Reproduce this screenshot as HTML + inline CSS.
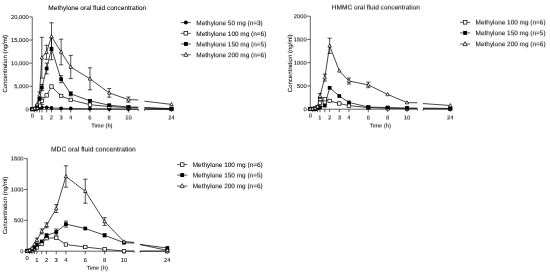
<!DOCTYPE html>
<html><head><meta charset="utf-8"><title>Oral fluid concentration</title>
<style>
html,body{margin:0;padding:0;background:#fff;}
svg{display:block;}
svg text{text-rendering:geometricPrecision;stroke:#000;stroke-width:0.05px;font-family:"Liberation Sans",Arial,sans-serif;fill:#000;}
</style></head><body>
<svg width="550" height="273" viewBox="0 0 550 273">
<defs>
<filter id="sh1" x="-10%" y="-60%" width="120%" height="220%"><feOffset in="SourceGraphic" dy="1" result="o"/><feComposite in="SourceGraphic" in2="o" operator="arithmetic" k1="0" k2="0.75" k3="0.25" k4="0"/></filter>
<filter id="sh2" x="-10%" y="-60%" width="120%" height="220%"><feOffset in="SourceGraphic" dy="1" result="o"/><feComposite in="SourceGraphic" in2="o" operator="arithmetic" k1="0" k2="0.5" k3="0.5" k4="0"/></filter>
<filter id="sh3" x="-10%" y="-60%" width="120%" height="220%"><feOffset in="SourceGraphic" dy="1" result="o"/><feComposite in="SourceGraphic" in2="o" operator="arithmetic" k1="0" k2="0.25" k3="0.75" k4="0"/></filter>
</defs>
<rect width="550" height="273" fill="#fff"/>
<line x1="32.25" y1="16.90" x2="32.25" y2="109.75" stroke="#000" stroke-width="0.62"/>
<line x1="31.90" y1="109.40" x2="138.30" y2="109.40" stroke="#000" stroke-width="0.62"/>
<line x1="144.40" y1="109.40" x2="172.00" y2="109.40" stroke="#000" stroke-width="0.62"/>
<line x1="29.25" y1="109.40" x2="32.25" y2="109.40" stroke="#000" stroke-width="0.62"/>
<text x="28.65" y="111" font-size="5.8" text-anchor="end" filter="url(#sh2)" >0</text>
<line x1="29.25" y1="86.28" x2="32.25" y2="86.28" stroke="#000" stroke-width="0.62"/>
<text x="28.65" y="88" font-size="5.8" text-anchor="end" filter="url(#sh1)" >5,000</text>
<line x1="29.25" y1="63.15" x2="32.25" y2="63.15" stroke="#000" stroke-width="0.62"/>
<text x="28.65" y="65" font-size="5.8" text-anchor="end" filter="url(#sh1)" >10,000</text>
<line x1="29.25" y1="40.03" x2="32.25" y2="40.03" stroke="#000" stroke-width="0.62"/>
<text x="28.65" y="42" font-size="5.8" text-anchor="end" >15,000</text>
<line x1="29.25" y1="16.90" x2="32.25" y2="16.90" stroke="#000" stroke-width="0.62"/>
<text x="28.65" y="19" font-size="5.8" text-anchor="end" >20,000</text>
<line x1="34.66" y1="109.40" x2="34.66" y2="112.40" stroke="#000" stroke-width="0.62"/>
<line x1="37.06" y1="109.40" x2="37.06" y2="112.40" stroke="#000" stroke-width="0.62"/>
<line x1="39.47" y1="109.40" x2="39.47" y2="112.40" stroke="#000" stroke-width="0.62"/>
<line x1="46.68" y1="109.40" x2="46.68" y2="112.40" stroke="#000" stroke-width="0.62"/>
<line x1="41.87" y1="109.40" x2="41.87" y2="112.40" stroke="#000" stroke-width="0.62"/>
<text x="41.87" y="119" font-size="5.8" text-anchor="middle" filter="url(#sh2)" >1</text>
<line x1="51.49" y1="109.40" x2="51.49" y2="112.40" stroke="#000" stroke-width="0.62"/>
<text x="51.49" y="119" font-size="5.8" text-anchor="middle" filter="url(#sh2)" >2</text>
<line x1="61.11" y1="109.40" x2="61.11" y2="112.40" stroke="#000" stroke-width="0.62"/>
<text x="61.11" y="119" font-size="5.8" text-anchor="middle" filter="url(#sh2)" >3</text>
<line x1="70.73" y1="109.40" x2="70.73" y2="112.40" stroke="#000" stroke-width="0.62"/>
<text x="70.73" y="119" font-size="5.8" text-anchor="middle" filter="url(#sh2)" >4</text>
<line x1="89.97" y1="109.40" x2="89.97" y2="112.40" stroke="#000" stroke-width="0.62"/>
<text x="89.97" y="119" font-size="5.8" text-anchor="middle" filter="url(#sh2)" >6</text>
<line x1="109.21" y1="109.40" x2="109.21" y2="112.40" stroke="#000" stroke-width="0.62"/>
<text x="109.21" y="119" font-size="5.8" text-anchor="middle" filter="url(#sh2)" >8</text>
<line x1="128.45" y1="109.40" x2="128.45" y2="112.40" stroke="#000" stroke-width="0.62"/>
<text x="128.45" y="119" font-size="5.8" text-anchor="middle" filter="url(#sh2)" >10</text>
<text x="32.25" y="117" font-size="5.8" text-anchor="middle" filter="url(#sh2)" >0</text>
<line x1="138.30" y1="109.40" x2="138.30" y2="111.00" stroke="#000" stroke-width="0.62"/>
<line x1="144.40" y1="109.40" x2="144.40" y2="111.00" stroke="#000" stroke-width="0.62"/>
<line x1="171.50" y1="109.40" x2="171.50" y2="112.10" stroke="#000" stroke-width="0.62"/>
<text x="171.50" y="119" font-size="5.8" text-anchor="middle" filter="url(#sh2)" >24</text>
<text x="101.88" y="127" font-size="5.8" text-anchor="middle" filter="url(#sh2)" >Time (h)</text>
<text transform="translate(6.90,63.75) rotate(-90)" font-size="6.0" text-anchor="middle">Concentration (ng/ml)</text>
<text x="97.30" y="10" font-size="6.55" text-anchor="middle" >Methylone oral fluid concentration</text>
<line x1="32.25" y1="109.20" x2="34.66" y2="109.00" stroke="#000" stroke-width="0.72"/>
<line x1="34.66" y1="109.00" x2="37.06" y2="108.60" stroke="#000" stroke-width="0.72"/>
<line x1="37.06" y1="108.60" x2="39.47" y2="108.00" stroke="#000" stroke-width="0.72"/>
<line x1="39.47" y1="108.00" x2="41.87" y2="107.30" stroke="#000" stroke-width="0.72"/>
<line x1="41.87" y1="107.30" x2="46.68" y2="107.30" stroke="#000" stroke-width="0.72"/>
<line x1="46.68" y1="107.30" x2="51.49" y2="108.00" stroke="#000" stroke-width="0.72"/>
<line x1="51.49" y1="108.00" x2="61.11" y2="108.30" stroke="#000" stroke-width="0.72"/>
<line x1="61.11" y1="108.30" x2="70.73" y2="108.40" stroke="#000" stroke-width="0.72"/>
<line x1="70.73" y1="108.40" x2="89.97" y2="108.70" stroke="#000" stroke-width="0.72"/>
<line x1="89.97" y1="108.70" x2="109.21" y2="108.90" stroke="#000" stroke-width="0.72"/>
<line x1="109.21" y1="108.90" x2="128.45" y2="109.00" stroke="#000" stroke-width="0.72"/>
<line x1="128.45" y1="109.00" x2="138.30" y2="109.01" stroke="#000" stroke-width="0.72"/>
<line x1="144.40" y1="109.07" x2="171.50" y2="109.20" stroke="#000" stroke-width="0.72"/>
<line x1="32.25" y1="109.20" x2="34.66" y2="109.00" stroke="#000" stroke-width="0.72"/>
<line x1="34.66" y1="109.00" x2="37.06" y2="107.50" stroke="#000" stroke-width="0.72"/>
<line x1="37.06" y1="107.50" x2="39.47" y2="105.70" stroke="#000" stroke-width="0.72"/>
<line x1="39.47" y1="105.70" x2="41.87" y2="100.90" stroke="#000" stroke-width="0.72"/>
<line x1="41.87" y1="100.90" x2="46.68" y2="95.40" stroke="#000" stroke-width="0.72"/>
<line x1="46.68" y1="95.40" x2="51.49" y2="86.50" stroke="#000" stroke-width="0.72"/>
<line x1="51.49" y1="86.50" x2="61.11" y2="95.90" stroke="#000" stroke-width="0.72"/>
<line x1="61.11" y1="95.90" x2="70.73" y2="99.90" stroke="#000" stroke-width="0.72"/>
<line x1="70.73" y1="99.90" x2="89.97" y2="104.70" stroke="#000" stroke-width="0.72"/>
<line x1="89.97" y1="104.70" x2="109.21" y2="106.60" stroke="#000" stroke-width="0.72"/>
<line x1="109.21" y1="106.60" x2="128.45" y2="107.60" stroke="#000" stroke-width="0.72"/>
<line x1="128.45" y1="107.60" x2="138.30" y2="107.70" stroke="#000" stroke-width="0.72"/>
<line x1="144.40" y1="108.06" x2="171.50" y2="109.00" stroke="#000" stroke-width="0.72"/>
<line x1="32.25" y1="109.20" x2="34.66" y2="108.80" stroke="#000" stroke-width="0.72"/>
<line x1="34.66" y1="108.80" x2="37.06" y2="106.00" stroke="#000" stroke-width="0.72"/>
<line x1="37.06" y1="106.00" x2="39.47" y2="99.00" stroke="#000" stroke-width="0.72"/>
<line x1="39.47" y1="99.00" x2="41.87" y2="87.50" stroke="#000" stroke-width="0.72"/>
<line x1="41.87" y1="87.50" x2="46.68" y2="68.50" stroke="#000" stroke-width="0.72"/>
<line x1="46.68" y1="68.50" x2="51.49" y2="48.70" stroke="#000" stroke-width="0.72"/>
<line x1="51.49" y1="48.70" x2="61.11" y2="79.20" stroke="#000" stroke-width="0.72"/>
<line x1="61.11" y1="79.20" x2="70.73" y2="93.80" stroke="#000" stroke-width="0.72"/>
<line x1="70.73" y1="93.80" x2="89.97" y2="100.90" stroke="#000" stroke-width="0.72"/>
<line x1="89.97" y1="100.90" x2="109.21" y2="105.20" stroke="#000" stroke-width="0.72"/>
<line x1="109.21" y1="105.20" x2="128.45" y2="107.00" stroke="#000" stroke-width="0.72"/>
<line x1="128.45" y1="107.00" x2="138.30" y2="107.12" stroke="#000" stroke-width="0.72"/>
<line x1="144.40" y1="107.53" x2="171.50" y2="108.60" stroke="#000" stroke-width="0.72"/>
<line x1="32.25" y1="109.20" x2="34.66" y2="108.50" stroke="#000" stroke-width="0.72"/>
<line x1="34.66" y1="108.50" x2="37.06" y2="104.50" stroke="#000" stroke-width="0.72"/>
<line x1="37.06" y1="104.50" x2="39.47" y2="95.00" stroke="#000" stroke-width="0.72"/>
<line x1="39.47" y1="95.00" x2="41.87" y2="57.70" stroke="#000" stroke-width="0.72"/>
<line x1="41.87" y1="57.70" x2="46.48" y2="52.30" stroke="#000" stroke-width="0.72"/>
<line x1="46.48" y1="52.30" x2="51.49" y2="36.60" stroke="#000" stroke-width="0.72"/>
<line x1="51.49" y1="36.60" x2="61.11" y2="52.00" stroke="#000" stroke-width="0.72"/>
<line x1="61.11" y1="52.00" x2="70.73" y2="67.00" stroke="#000" stroke-width="0.72"/>
<line x1="70.73" y1="67.00" x2="89.97" y2="78.80" stroke="#000" stroke-width="0.72"/>
<line x1="89.97" y1="78.80" x2="109.21" y2="92.90" stroke="#000" stroke-width="0.72"/>
<line x1="109.21" y1="92.90" x2="128.45" y2="99.60" stroke="#000" stroke-width="0.72"/>
<line x1="128.45" y1="99.60" x2="138.30" y2="99.95" stroke="#000" stroke-width="0.72"/>
<line x1="144.40" y1="101.18" x2="171.50" y2="104.40" stroke="#000" stroke-width="0.72"/>
<circle cx="32.25" cy="109.20" r="1.90" fill="#000"/>
<circle cx="34.66" cy="109.00" r="1.90" fill="#000"/>
<circle cx="37.06" cy="108.60" r="1.90" fill="#000"/>
<circle cx="39.47" cy="108.00" r="1.90" fill="#000"/>
<circle cx="41.87" cy="107.30" r="1.90" fill="#000"/>
<circle cx="46.68" cy="107.30" r="1.90" fill="#000"/>
<circle cx="51.49" cy="108.00" r="1.90" fill="#000"/>
<circle cx="61.11" cy="108.30" r="1.90" fill="#000"/>
<circle cx="70.73" cy="108.40" r="1.90" fill="#000"/>
<circle cx="89.97" cy="108.70" r="1.90" fill="#000"/>
<circle cx="109.21" cy="108.90" r="1.90" fill="#000"/>
<circle cx="128.45" cy="109.00" r="1.90" fill="#000"/>
<circle cx="171.50" cy="109.20" r="1.90" fill="#000"/>
<line x1="41.87" y1="97.30" x2="41.87" y2="104.50" stroke="#000" stroke-width="0.68"/>
<line x1="39.77" y1="97.30" x2="43.97" y2="97.30" stroke="#000" stroke-width="0.68"/>
<line x1="39.77" y1="104.50" x2="43.97" y2="104.50" stroke="#000" stroke-width="0.68"/>
<rect x="30.53" y="107.48" width="3.44" height="3.44" fill="#fff" stroke="#000" stroke-width="0.7"/>
<rect x="32.94" y="107.28" width="3.44" height="3.44" fill="#fff" stroke="#000" stroke-width="0.7"/>
<rect x="35.34" y="105.78" width="3.44" height="3.44" fill="#fff" stroke="#000" stroke-width="0.7"/>
<rect x="37.75" y="103.98" width="3.44" height="3.44" fill="#fff" stroke="#000" stroke-width="0.7"/>
<rect x="40.15" y="99.18" width="3.44" height="3.44" fill="#fff" stroke="#000" stroke-width="0.7"/>
<rect x="44.96" y="93.68" width="3.44" height="3.44" fill="#fff" stroke="#000" stroke-width="0.7"/>
<rect x="49.77" y="84.78" width="3.44" height="3.44" fill="#fff" stroke="#000" stroke-width="0.7"/>
<rect x="59.39" y="94.18" width="3.44" height="3.44" fill="#fff" stroke="#000" stroke-width="0.7"/>
<rect x="69.01" y="98.18" width="3.44" height="3.44" fill="#fff" stroke="#000" stroke-width="0.7"/>
<rect x="88.25" y="102.98" width="3.44" height="3.44" fill="#fff" stroke="#000" stroke-width="0.7"/>
<rect x="107.49" y="104.88" width="3.44" height="3.44" fill="#fff" stroke="#000" stroke-width="0.7"/>
<rect x="126.73" y="105.88" width="3.44" height="3.44" fill="#fff" stroke="#000" stroke-width="0.7"/>
<rect x="169.78" y="107.28" width="3.44" height="3.44" fill="#fff" stroke="#000" stroke-width="0.7"/>
<line x1="41.87" y1="84.50" x2="41.87" y2="90.50" stroke="#000" stroke-width="0.68"/>
<line x1="39.77" y1="84.50" x2="43.97" y2="84.50" stroke="#000" stroke-width="0.68"/>
<line x1="39.77" y1="90.50" x2="43.97" y2="90.50" stroke="#000" stroke-width="0.68"/>
<line x1="46.68" y1="63.00" x2="46.68" y2="74.00" stroke="#000" stroke-width="0.68"/>
<line x1="44.58" y1="63.00" x2="48.78" y2="63.00" stroke="#000" stroke-width="0.68"/>
<line x1="44.58" y1="74.00" x2="48.78" y2="74.00" stroke="#000" stroke-width="0.68"/>
<line x1="51.49" y1="37.70" x2="51.49" y2="59.70" stroke="#000" stroke-width="0.68"/>
<line x1="49.39" y1="37.70" x2="53.59" y2="37.70" stroke="#000" stroke-width="0.68"/>
<line x1="49.39" y1="59.70" x2="53.59" y2="59.70" stroke="#000" stroke-width="0.68"/>
<line x1="61.11" y1="75.70" x2="61.11" y2="82.70" stroke="#000" stroke-width="0.68"/>
<line x1="59.01" y1="75.70" x2="63.21" y2="75.70" stroke="#000" stroke-width="0.68"/>
<line x1="59.01" y1="82.70" x2="63.21" y2="82.70" stroke="#000" stroke-width="0.68"/>
<line x1="70.73" y1="91.80" x2="70.73" y2="95.80" stroke="#000" stroke-width="0.68"/>
<line x1="68.63" y1="91.80" x2="72.83" y2="91.80" stroke="#000" stroke-width="0.68"/>
<line x1="68.63" y1="95.80" x2="72.83" y2="95.80" stroke="#000" stroke-width="0.68"/>
<line x1="89.97" y1="99.70" x2="89.97" y2="102.10" stroke="#000" stroke-width="0.68"/>
<line x1="87.87" y1="99.70" x2="92.07" y2="99.70" stroke="#000" stroke-width="0.68"/>
<line x1="87.87" y1="102.10" x2="92.07" y2="102.10" stroke="#000" stroke-width="0.68"/>
<rect x="30.40" y="107.35" width="3.70" height="3.70" fill="#000"/>
<rect x="32.80" y="106.95" width="3.70" height="3.70" fill="#000"/>
<rect x="35.21" y="104.15" width="3.70" height="3.70" fill="#000"/>
<rect x="37.62" y="97.15" width="3.70" height="3.70" fill="#000"/>
<rect x="40.02" y="85.65" width="3.70" height="3.70" fill="#000"/>
<rect x="44.83" y="66.65" width="3.70" height="3.70" fill="#000"/>
<rect x="49.64" y="46.85" width="3.70" height="3.70" fill="#000"/>
<rect x="59.26" y="77.35" width="3.70" height="3.70" fill="#000"/>
<rect x="68.88" y="91.95" width="3.70" height="3.70" fill="#000"/>
<rect x="88.12" y="99.05" width="3.70" height="3.70" fill="#000"/>
<rect x="107.36" y="103.35" width="3.70" height="3.70" fill="#000"/>
<rect x="126.60" y="105.15" width="3.70" height="3.70" fill="#000"/>
<rect x="169.65" y="106.75" width="3.70" height="3.70" fill="#000"/>
<line x1="39.47" y1="92.00" x2="39.47" y2="98.00" stroke="#000" stroke-width="0.68"/>
<line x1="37.37" y1="92.00" x2="41.57" y2="92.00" stroke="#000" stroke-width="0.68"/>
<line x1="37.37" y1="98.00" x2="41.57" y2="98.00" stroke="#000" stroke-width="0.68"/>
<line x1="41.87" y1="37.30" x2="41.87" y2="78.10" stroke="#000" stroke-width="0.68"/>
<line x1="39.77" y1="37.30" x2="43.97" y2="37.30" stroke="#000" stroke-width="0.68"/>
<line x1="39.77" y1="78.10" x2="43.97" y2="78.10" stroke="#000" stroke-width="0.68"/>
<line x1="46.48" y1="45.30" x2="46.48" y2="59.30" stroke="#000" stroke-width="0.68"/>
<line x1="44.38" y1="45.30" x2="48.58" y2="45.30" stroke="#000" stroke-width="0.68"/>
<line x1="44.38" y1="59.30" x2="48.58" y2="59.30" stroke="#000" stroke-width="0.68"/>
<line x1="51.49" y1="22.80" x2="51.49" y2="50.40" stroke="#000" stroke-width="0.68"/>
<line x1="49.39" y1="22.80" x2="53.59" y2="22.80" stroke="#000" stroke-width="0.68"/>
<line x1="49.39" y1="50.40" x2="53.59" y2="50.40" stroke="#000" stroke-width="0.68"/>
<line x1="61.11" y1="39.20" x2="61.11" y2="64.80" stroke="#000" stroke-width="0.68"/>
<line x1="59.01" y1="39.20" x2="63.21" y2="39.20" stroke="#000" stroke-width="0.68"/>
<line x1="59.01" y1="64.80" x2="63.21" y2="64.80" stroke="#000" stroke-width="0.68"/>
<line x1="70.73" y1="55.40" x2="70.73" y2="78.60" stroke="#000" stroke-width="0.68"/>
<line x1="68.63" y1="55.40" x2="72.83" y2="55.40" stroke="#000" stroke-width="0.68"/>
<line x1="68.63" y1="78.60" x2="72.83" y2="78.60" stroke="#000" stroke-width="0.68"/>
<line x1="89.97" y1="67.80" x2="89.97" y2="89.80" stroke="#000" stroke-width="0.68"/>
<line x1="87.87" y1="67.80" x2="92.07" y2="67.80" stroke="#000" stroke-width="0.68"/>
<line x1="87.87" y1="89.80" x2="92.07" y2="89.80" stroke="#000" stroke-width="0.68"/>
<line x1="109.21" y1="88.60" x2="109.21" y2="97.20" stroke="#000" stroke-width="0.68"/>
<line x1="107.11" y1="88.60" x2="111.31" y2="88.60" stroke="#000" stroke-width="0.68"/>
<line x1="107.11" y1="97.20" x2="111.31" y2="97.20" stroke="#000" stroke-width="0.68"/>
<line x1="128.45" y1="97.00" x2="128.45" y2="102.20" stroke="#000" stroke-width="0.68"/>
<line x1="126.35" y1="97.00" x2="130.55" y2="97.00" stroke="#000" stroke-width="0.68"/>
<line x1="126.35" y1="102.20" x2="130.55" y2="102.20" stroke="#000" stroke-width="0.68"/>
<polygon points="32.25,107.31 33.97,110.49 30.53,110.49" fill="#fff" stroke="#000" stroke-width="0.72"/>
<polygon points="34.66,106.61 36.38,109.79 32.94,109.79" fill="#fff" stroke="#000" stroke-width="0.72"/>
<polygon points="37.06,102.61 38.78,105.79 35.34,105.79" fill="#fff" stroke="#000" stroke-width="0.72"/>
<polygon points="39.47,93.11 41.19,96.29 37.75,96.29" fill="#fff" stroke="#000" stroke-width="0.72"/>
<polygon points="41.87,55.81 43.59,58.99 40.15,58.99" fill="#fff" stroke="#000" stroke-width="0.72"/>
<polygon points="46.48,50.41 48.20,53.59 44.76,53.59" fill="#fff" stroke="#000" stroke-width="0.72"/>
<polygon points="51.49,34.71 53.21,37.89 49.77,37.89" fill="#fff" stroke="#000" stroke-width="0.72"/>
<polygon points="61.11,50.11 62.83,53.29 59.39,53.29" fill="#fff" stroke="#000" stroke-width="0.72"/>
<polygon points="70.73,65.11 72.45,68.29 69.01,68.29" fill="#fff" stroke="#000" stroke-width="0.72"/>
<polygon points="89.97,76.91 91.69,80.09 88.25,80.09" fill="#fff" stroke="#000" stroke-width="0.72"/>
<polygon points="109.21,91.01 110.93,94.19 107.49,94.19" fill="#fff" stroke="#000" stroke-width="0.72"/>
<polygon points="128.45,97.71 130.17,100.89 126.73,100.89" fill="#fff" stroke="#000" stroke-width="0.72"/>
<polygon points="171.50,102.51 173.22,105.69 169.78,105.69" fill="#fff" stroke="#000" stroke-width="0.72"/>
<line x1="180.75" y1="22.60" x2="190.95" y2="22.60" stroke="#000" stroke-width="0.65"/>
<circle cx="185.85" cy="22.60" r="1.99" fill="#000"/>
<text x="196.35" y="25" font-size="6.45" text-anchor="start" filter="url(#sh1)" >Methylone 50 mg (n=3)</text>
<line x1="180.75" y1="33.30" x2="190.95" y2="33.30" stroke="#000" stroke-width="0.65"/>
<rect x="184.04" y="31.49" width="3.61" height="3.61" fill="#fff" stroke="#000" stroke-width="0.7"/>
<text x="196.35" y="36" font-size="6.45" text-anchor="start" >Methylone 100 mg (n=6)</text>
<line x1="180.75" y1="43.95" x2="190.95" y2="43.95" stroke="#000" stroke-width="0.65"/>
<rect x="183.91" y="42.01" width="3.89" height="3.89" fill="#000"/>
<text x="196.35" y="46" font-size="6.45" text-anchor="start" filter="url(#sh2)" >Methylone 150 mg (n=5)</text>
<line x1="180.75" y1="54.75" x2="190.95" y2="54.75" stroke="#000" stroke-width="0.65"/>
<polygon points="185.85,52.44 187.95,56.33 183.75,56.33" fill="#fff" stroke="#000" stroke-width="0.72"/>
<text x="196.35" y="57" font-size="6.45" text-anchor="start" filter="url(#sh1)" >Methylone 200 mg (n=6)</text>
<line x1="310.30" y1="16.20" x2="310.30" y2="109.55" stroke="#000" stroke-width="0.62"/>
<line x1="309.95" y1="109.20" x2="417.40" y2="109.20" stroke="#000" stroke-width="0.62"/>
<line x1="423.00" y1="109.20" x2="450.80" y2="109.20" stroke="#000" stroke-width="0.62"/>
<line x1="307.30" y1="109.20" x2="310.30" y2="109.20" stroke="#000" stroke-width="0.62"/>
<text x="306.70" y="111" font-size="5.8" text-anchor="end" filter="url(#sh1)" >0</text>
<line x1="307.30" y1="85.95" x2="310.30" y2="85.95" stroke="#000" stroke-width="0.62"/>
<text x="306.70" y="88" font-size="5.8" text-anchor="end" >500</text>
<line x1="307.30" y1="62.70" x2="310.30" y2="62.70" stroke="#000" stroke-width="0.62"/>
<text x="306.70" y="64" font-size="5.8" text-anchor="end" filter="url(#sh3)" >1000</text>
<line x1="307.30" y1="39.45" x2="310.30" y2="39.45" stroke="#000" stroke-width="0.62"/>
<text x="306.70" y="41" font-size="5.8" text-anchor="end" filter="url(#sh2)" >1500</text>
<line x1="307.30" y1="16.20" x2="310.30" y2="16.20" stroke="#000" stroke-width="0.62"/>
<text x="306.70" y="18" font-size="5.8" text-anchor="end" filter="url(#sh1)" >2000</text>
<line x1="312.72" y1="109.20" x2="312.72" y2="112.20" stroke="#000" stroke-width="0.62"/>
<line x1="315.13" y1="109.20" x2="315.13" y2="112.20" stroke="#000" stroke-width="0.62"/>
<line x1="317.55" y1="109.20" x2="317.55" y2="112.20" stroke="#000" stroke-width="0.62"/>
<line x1="324.81" y1="109.20" x2="324.81" y2="112.20" stroke="#000" stroke-width="0.62"/>
<line x1="319.97" y1="109.20" x2="319.97" y2="112.20" stroke="#000" stroke-width="0.62"/>
<text x="319.97" y="119" font-size="5.8" text-anchor="middle" filter="url(#sh2)" >1</text>
<line x1="329.64" y1="109.20" x2="329.64" y2="112.20" stroke="#000" stroke-width="0.62"/>
<text x="329.64" y="119" font-size="5.8" text-anchor="middle" filter="url(#sh2)" >2</text>
<line x1="339.31" y1="109.20" x2="339.31" y2="112.20" stroke="#000" stroke-width="0.62"/>
<text x="339.31" y="119" font-size="5.8" text-anchor="middle" filter="url(#sh2)" >3</text>
<line x1="348.98" y1="109.20" x2="348.98" y2="112.20" stroke="#000" stroke-width="0.62"/>
<text x="348.98" y="119" font-size="5.8" text-anchor="middle" filter="url(#sh2)" >4</text>
<line x1="368.32" y1="109.20" x2="368.32" y2="112.20" stroke="#000" stroke-width="0.62"/>
<text x="368.32" y="119" font-size="5.8" text-anchor="middle" filter="url(#sh2)" >6</text>
<line x1="387.66" y1="109.20" x2="387.66" y2="112.20" stroke="#000" stroke-width="0.62"/>
<text x="387.66" y="119" font-size="5.8" text-anchor="middle" filter="url(#sh2)" >8</text>
<line x1="407.00" y1="109.20" x2="407.00" y2="112.20" stroke="#000" stroke-width="0.62"/>
<text x="407.00" y="119" font-size="5.8" text-anchor="middle" filter="url(#sh2)" >10</text>
<text x="310.30" y="117" font-size="5.8" text-anchor="middle" filter="url(#sh2)" >0</text>
<line x1="417.40" y1="109.20" x2="417.40" y2="110.80" stroke="#000" stroke-width="0.62"/>
<line x1="423.00" y1="109.20" x2="423.00" y2="110.80" stroke="#000" stroke-width="0.62"/>
<line x1="450.30" y1="109.20" x2="450.30" y2="111.90" stroke="#000" stroke-width="0.62"/>
<text x="450.30" y="119" font-size="5.8" text-anchor="middle" filter="url(#sh2)" >24</text>
<text x="380.30" y="127" font-size="5.8" text-anchor="middle" filter="url(#sh2)" >Time (h)</text>
<text transform="translate(291.60,63.30) rotate(-90)" font-size="6.0" text-anchor="middle">Concentration (ng/ml)</text>
<text x="375.90" y="9" font-size="6.55" text-anchor="middle" filter="url(#sh2)" >HMMC oral fluid concentration</text>
<line x1="310.30" y1="109.00" x2="312.72" y2="108.90" stroke="#000" stroke-width="0.72"/>
<line x1="312.72" y1="108.90" x2="315.13" y2="108.60" stroke="#000" stroke-width="0.72"/>
<line x1="315.13" y1="108.60" x2="317.55" y2="107.30" stroke="#000" stroke-width="0.72"/>
<line x1="317.55" y1="107.30" x2="319.97" y2="102.80" stroke="#000" stroke-width="0.72"/>
<line x1="319.97" y1="102.80" x2="324.81" y2="99.20" stroke="#000" stroke-width="0.72"/>
<line x1="324.81" y1="99.20" x2="329.64" y2="100.90" stroke="#000" stroke-width="0.72"/>
<line x1="329.64" y1="100.90" x2="339.31" y2="103.50" stroke="#000" stroke-width="0.72"/>
<line x1="339.31" y1="103.50" x2="348.98" y2="105.60" stroke="#000" stroke-width="0.72"/>
<line x1="348.98" y1="105.60" x2="368.32" y2="107.60" stroke="#000" stroke-width="0.72"/>
<line x1="368.32" y1="107.60" x2="387.66" y2="108.30" stroke="#000" stroke-width="0.72"/>
<line x1="387.66" y1="108.30" x2="407.00" y2="108.60" stroke="#000" stroke-width="0.72"/>
<line x1="407.00" y1="108.60" x2="417.40" y2="108.62" stroke="#000" stroke-width="0.72"/>
<line x1="423.00" y1="108.70" x2="450.30" y2="108.90" stroke="#000" stroke-width="0.72"/>
<line x1="310.30" y1="109.00" x2="312.72" y2="108.90" stroke="#000" stroke-width="0.72"/>
<line x1="312.72" y1="108.90" x2="315.13" y2="108.70" stroke="#000" stroke-width="0.72"/>
<line x1="315.13" y1="108.70" x2="317.55" y2="108.30" stroke="#000" stroke-width="0.72"/>
<line x1="317.55" y1="108.30" x2="319.97" y2="107.30" stroke="#000" stroke-width="0.72"/>
<line x1="319.97" y1="107.30" x2="324.81" y2="105.60" stroke="#000" stroke-width="0.72"/>
<line x1="324.81" y1="105.60" x2="329.64" y2="87.80" stroke="#000" stroke-width="0.72"/>
<line x1="329.64" y1="87.80" x2="339.31" y2="96.00" stroke="#000" stroke-width="0.72"/>
<line x1="339.31" y1="96.00" x2="348.98" y2="102.40" stroke="#000" stroke-width="0.72"/>
<line x1="348.98" y1="102.40" x2="368.32" y2="107.10" stroke="#000" stroke-width="0.72"/>
<line x1="368.32" y1="107.10" x2="387.66" y2="107.50" stroke="#000" stroke-width="0.72"/>
<line x1="387.66" y1="107.50" x2="407.00" y2="108.00" stroke="#000" stroke-width="0.72"/>
<line x1="407.00" y1="108.00" x2="417.40" y2="108.03" stroke="#000" stroke-width="0.72"/>
<line x1="423.00" y1="108.13" x2="450.30" y2="108.40" stroke="#000" stroke-width="0.72"/>
<line x1="310.30" y1="109.00" x2="312.72" y2="108.80" stroke="#000" stroke-width="0.72"/>
<line x1="312.72" y1="108.80" x2="315.13" y2="108.30" stroke="#000" stroke-width="0.72"/>
<line x1="315.13" y1="108.30" x2="317.55" y2="106.70" stroke="#000" stroke-width="0.72"/>
<line x1="317.55" y1="106.70" x2="319.97" y2="96.00" stroke="#000" stroke-width="0.72"/>
<line x1="319.97" y1="96.00" x2="324.81" y2="77.60" stroke="#000" stroke-width="0.72"/>
<line x1="324.81" y1="77.60" x2="329.64" y2="45.80" stroke="#000" stroke-width="0.72"/>
<line x1="329.64" y1="45.80" x2="339.31" y2="70.80" stroke="#000" stroke-width="0.72"/>
<line x1="339.31" y1="70.80" x2="348.98" y2="81.00" stroke="#000" stroke-width="0.72"/>
<line x1="348.98" y1="81.00" x2="368.32" y2="84.90" stroke="#000" stroke-width="0.72"/>
<line x1="368.32" y1="84.90" x2="387.66" y2="94.40" stroke="#000" stroke-width="0.72"/>
<line x1="387.66" y1="94.40" x2="407.00" y2="102.60" stroke="#000" stroke-width="0.72"/>
<line x1="407.00" y1="102.60" x2="417.40" y2="102.82" stroke="#000" stroke-width="0.72"/>
<line x1="423.00" y1="103.56" x2="450.30" y2="105.50" stroke="#000" stroke-width="0.72"/>
<rect x="318.65" y="97.38" width="3.44" height="3.44" fill="#fff" stroke="#000" stroke-width="0.7"/>
<rect x="323.08" y="100.58" width="3.44" height="3.44" fill="#fff" stroke="#000" stroke-width="0.7"/>
<rect x="308.58" y="107.28" width="3.44" height="3.44" fill="#fff" stroke="#000" stroke-width="0.7"/>
<rect x="311.00" y="107.18" width="3.44" height="3.44" fill="#fff" stroke="#000" stroke-width="0.7"/>
<rect x="313.41" y="106.88" width="3.44" height="3.44" fill="#fff" stroke="#000" stroke-width="0.7"/>
<rect x="315.83" y="105.58" width="3.44" height="3.44" fill="#fff" stroke="#000" stroke-width="0.7"/>
<rect x="318.25" y="101.08" width="3.44" height="3.44" fill="#fff" stroke="#000" stroke-width="0.7"/>
<rect x="323.08" y="97.48" width="3.44" height="3.44" fill="#fff" stroke="#000" stroke-width="0.7"/>
<rect x="327.92" y="99.18" width="3.44" height="3.44" fill="#fff" stroke="#000" stroke-width="0.7"/>
<rect x="337.59" y="101.78" width="3.44" height="3.44" fill="#fff" stroke="#000" stroke-width="0.7"/>
<rect x="347.26" y="103.88" width="3.44" height="3.44" fill="#fff" stroke="#000" stroke-width="0.7"/>
<rect x="366.60" y="105.88" width="3.44" height="3.44" fill="#fff" stroke="#000" stroke-width="0.7"/>
<rect x="385.94" y="106.58" width="3.44" height="3.44" fill="#fff" stroke="#000" stroke-width="0.7"/>
<rect x="405.28" y="106.88" width="3.44" height="3.44" fill="#fff" stroke="#000" stroke-width="0.7"/>
<rect x="448.58" y="107.18" width="3.44" height="3.44" fill="#fff" stroke="#000" stroke-width="0.7"/>
<rect x="308.45" y="107.15" width="3.70" height="3.70" fill="#000"/>
<rect x="310.87" y="107.05" width="3.70" height="3.70" fill="#000"/>
<rect x="313.28" y="106.85" width="3.70" height="3.70" fill="#000"/>
<rect x="315.70" y="106.45" width="3.70" height="3.70" fill="#000"/>
<rect x="318.12" y="105.45" width="3.70" height="3.70" fill="#000"/>
<rect x="322.95" y="103.75" width="3.70" height="3.70" fill="#000"/>
<rect x="327.79" y="85.95" width="3.70" height="3.70" fill="#000"/>
<rect x="337.46" y="94.15" width="3.70" height="3.70" fill="#000"/>
<rect x="347.13" y="100.55" width="3.70" height="3.70" fill="#000"/>
<rect x="366.47" y="105.25" width="3.70" height="3.70" fill="#000"/>
<rect x="385.81" y="105.65" width="3.70" height="3.70" fill="#000"/>
<rect x="405.15" y="106.15" width="3.70" height="3.70" fill="#000"/>
<rect x="448.45" y="106.55" width="3.70" height="3.70" fill="#000"/>
<line x1="319.97" y1="93.40" x2="319.97" y2="98.60" stroke="#000" stroke-width="0.68"/>
<line x1="317.87" y1="93.40" x2="322.07" y2="93.40" stroke="#000" stroke-width="0.68"/>
<line x1="317.87" y1="98.60" x2="322.07" y2="98.60" stroke="#000" stroke-width="0.68"/>
<line x1="324.81" y1="74.10" x2="324.81" y2="81.10" stroke="#000" stroke-width="0.68"/>
<line x1="322.70" y1="74.10" x2="326.91" y2="74.10" stroke="#000" stroke-width="0.68"/>
<line x1="322.70" y1="81.10" x2="326.91" y2="81.10" stroke="#000" stroke-width="0.68"/>
<line x1="329.64" y1="38.20" x2="329.64" y2="53.40" stroke="#000" stroke-width="0.68"/>
<line x1="327.54" y1="38.20" x2="331.74" y2="38.20" stroke="#000" stroke-width="0.68"/>
<line x1="327.54" y1="53.40" x2="331.74" y2="53.40" stroke="#000" stroke-width="0.68"/>
<line x1="348.98" y1="78.00" x2="348.98" y2="84.00" stroke="#000" stroke-width="0.68"/>
<line x1="346.88" y1="78.00" x2="351.08" y2="78.00" stroke="#000" stroke-width="0.68"/>
<line x1="346.88" y1="84.00" x2="351.08" y2="84.00" stroke="#000" stroke-width="0.68"/>
<line x1="368.32" y1="82.10" x2="368.32" y2="87.70" stroke="#000" stroke-width="0.68"/>
<line x1="366.22" y1="82.10" x2="370.42" y2="82.10" stroke="#000" stroke-width="0.68"/>
<line x1="366.22" y1="87.70" x2="370.42" y2="87.70" stroke="#000" stroke-width="0.68"/>
<polygon points="310.30,107.11 312.02,110.29 308.58,110.29" fill="#fff" stroke="#000" stroke-width="0.72"/>
<polygon points="312.72,106.91 314.44,110.09 311.00,110.09" fill="#fff" stroke="#000" stroke-width="0.72"/>
<polygon points="315.13,106.41 316.86,109.59 313.41,109.59" fill="#fff" stroke="#000" stroke-width="0.72"/>
<polygon points="317.55,104.81 319.27,107.99 315.83,107.99" fill="#fff" stroke="#000" stroke-width="0.72"/>
<polygon points="319.97,94.11 321.69,97.29 318.25,97.29" fill="#fff" stroke="#000" stroke-width="0.72"/>
<polygon points="324.81,75.71 326.53,78.89 323.08,78.89" fill="#fff" stroke="#000" stroke-width="0.72"/>
<polygon points="329.64,43.91 331.36,47.09 327.92,47.09" fill="#fff" stroke="#000" stroke-width="0.72"/>
<polygon points="339.31,68.91 341.03,72.09 337.59,72.09" fill="#fff" stroke="#000" stroke-width="0.72"/>
<polygon points="348.98,79.11 350.70,82.29 347.26,82.29" fill="#fff" stroke="#000" stroke-width="0.72"/>
<polygon points="368.32,83.01 370.04,86.19 366.60,86.19" fill="#fff" stroke="#000" stroke-width="0.72"/>
<polygon points="387.66,92.51 389.38,95.69 385.94,95.69" fill="#fff" stroke="#000" stroke-width="0.72"/>
<polygon points="407.00,100.71 408.72,103.89 405.28,103.89" fill="#fff" stroke="#000" stroke-width="0.72"/>
<polygon points="450.30,103.61 452.02,106.79 448.58,106.79" fill="#fff" stroke="#000" stroke-width="0.72"/>
<line x1="460.00" y1="22.30" x2="470.20" y2="22.30" stroke="#000" stroke-width="0.65"/>
<rect x="463.29" y="20.49" width="3.61" height="3.61" fill="#fff" stroke="#000" stroke-width="0.7"/>
<text x="475.60" y="24" font-size="6.45" text-anchor="start" filter="url(#sh2)" >Methylone 100 mg (n=6)</text>
<line x1="460.00" y1="32.90" x2="470.20" y2="32.90" stroke="#000" stroke-width="0.65"/>
<rect x="463.16" y="30.96" width="3.89" height="3.89" fill="#000"/>
<text x="475.60" y="35" font-size="6.45" text-anchor="start" filter="url(#sh1)" >Methylone 150 mg (n=5)</text>
<line x1="460.00" y1="44.00" x2="470.20" y2="44.00" stroke="#000" stroke-width="0.65"/>
<polygon points="465.10,41.69 467.20,45.58 463.00,45.58" fill="#fff" stroke="#000" stroke-width="0.72"/>
<text x="475.60" y="46" font-size="6.45" text-anchor="start" filter="url(#sh1)" >Methylone 200 mg (n=6)</text>
<line x1="27.20" y1="158.60" x2="27.20" y2="251.55" stroke="#000" stroke-width="0.62"/>
<line x1="26.85" y1="251.20" x2="134.20" y2="251.20" stroke="#000" stroke-width="0.62"/>
<line x1="140.10" y1="251.20" x2="167.80" y2="251.20" stroke="#000" stroke-width="0.62"/>
<line x1="24.20" y1="251.20" x2="27.20" y2="251.20" stroke="#000" stroke-width="0.62"/>
<text x="23.60" y="253" font-size="5.8" text-anchor="end" filter="url(#sh1)" >0</text>
<line x1="24.20" y1="220.33" x2="27.20" y2="220.33" stroke="#000" stroke-width="0.62"/>
<text x="23.60" y="222" font-size="5.8" text-anchor="end" filter="url(#sh1)" >500</text>
<line x1="24.20" y1="189.47" x2="27.20" y2="189.47" stroke="#000" stroke-width="0.62"/>
<text x="23.60" y="191" font-size="5.8" text-anchor="end" filter="url(#sh2)" >1000</text>
<line x1="24.20" y1="158.60" x2="27.20" y2="158.60" stroke="#000" stroke-width="0.62"/>
<text x="23.60" y="160" font-size="5.8" text-anchor="end" filter="url(#sh2)" >1500</text>
<line x1="29.62" y1="251.20" x2="29.62" y2="254.20" stroke="#000" stroke-width="0.62"/>
<line x1="32.04" y1="251.20" x2="32.04" y2="254.20" stroke="#000" stroke-width="0.62"/>
<line x1="34.46" y1="251.20" x2="34.46" y2="254.20" stroke="#000" stroke-width="0.62"/>
<line x1="41.72" y1="251.20" x2="41.72" y2="254.20" stroke="#000" stroke-width="0.62"/>
<line x1="36.88" y1="251.20" x2="36.88" y2="254.20" stroke="#000" stroke-width="0.62"/>
<text x="36.88" y="262" font-size="5.8" text-anchor="middle" >1</text>
<line x1="46.56" y1="251.20" x2="46.56" y2="254.20" stroke="#000" stroke-width="0.62"/>
<text x="46.56" y="262" font-size="5.8" text-anchor="middle" >2</text>
<line x1="56.24" y1="251.20" x2="56.24" y2="254.20" stroke="#000" stroke-width="0.62"/>
<text x="56.24" y="262" font-size="5.8" text-anchor="middle" >3</text>
<line x1="65.92" y1="251.20" x2="65.92" y2="254.20" stroke="#000" stroke-width="0.62"/>
<text x="65.92" y="262" font-size="5.8" text-anchor="middle" >4</text>
<line x1="85.28" y1="251.20" x2="85.28" y2="254.20" stroke="#000" stroke-width="0.62"/>
<text x="85.28" y="262" font-size="5.8" text-anchor="middle" >6</text>
<line x1="104.64" y1="251.20" x2="104.64" y2="254.20" stroke="#000" stroke-width="0.62"/>
<text x="104.64" y="262" font-size="5.8" text-anchor="middle" >8</text>
<line x1="124.00" y1="251.20" x2="124.00" y2="254.20" stroke="#000" stroke-width="0.62"/>
<text x="124.00" y="262" font-size="5.8" text-anchor="middle" >10</text>
<text x="27.20" y="260" font-size="5.8" text-anchor="middle" >0</text>
<line x1="134.20" y1="251.20" x2="134.20" y2="252.80" stroke="#000" stroke-width="0.62"/>
<line x1="140.10" y1="251.20" x2="140.10" y2="252.80" stroke="#000" stroke-width="0.62"/>
<line x1="167.30" y1="251.20" x2="167.30" y2="253.90" stroke="#000" stroke-width="0.62"/>
<text x="167.30" y="262" font-size="5.8" text-anchor="middle" >24</text>
<text x="97.25" y="269" font-size="5.8" text-anchor="middle" filter="url(#sh3)" >Time (h)</text>
<text transform="translate(7.40,205.50) rotate(-90)" font-size="6.0" text-anchor="middle">Concentration (ng/ml)</text>
<text x="93.35" y="151" font-size="6.73" text-anchor="middle" filter="url(#sh2)" >MDC oral fluid concentration</text>
<line x1="27.20" y1="251.00" x2="29.62" y2="250.80" stroke="#000" stroke-width="0.72"/>
<line x1="29.62" y1="250.80" x2="32.04" y2="250.30" stroke="#000" stroke-width="0.72"/>
<line x1="32.04" y1="250.30" x2="34.46" y2="249.00" stroke="#000" stroke-width="0.72"/>
<line x1="34.46" y1="249.00" x2="36.88" y2="247.40" stroke="#000" stroke-width="0.72"/>
<line x1="36.88" y1="247.40" x2="41.72" y2="244.00" stroke="#000" stroke-width="0.72"/>
<line x1="41.72" y1="244.00" x2="46.56" y2="238.20" stroke="#000" stroke-width="0.72"/>
<line x1="46.56" y1="238.20" x2="56.24" y2="237.80" stroke="#000" stroke-width="0.72"/>
<line x1="56.24" y1="237.80" x2="65.92" y2="244.50" stroke="#000" stroke-width="0.72"/>
<line x1="65.92" y1="244.50" x2="85.28" y2="247.00" stroke="#000" stroke-width="0.72"/>
<line x1="85.28" y1="247.00" x2="104.64" y2="249.30" stroke="#000" stroke-width="0.72"/>
<line x1="104.64" y1="249.30" x2="124.00" y2="251.10" stroke="#000" stroke-width="0.72"/>
<line x1="124.00" y1="251.10" x2="134.20" y2="251.10" stroke="#000" stroke-width="0.72"/>
<line x1="140.10" y1="251.10" x2="167.30" y2="251.10" stroke="#000" stroke-width="0.72"/>
<line x1="27.20" y1="251.00" x2="29.62" y2="250.60" stroke="#000" stroke-width="0.72"/>
<line x1="29.62" y1="250.60" x2="32.04" y2="249.50" stroke="#000" stroke-width="0.72"/>
<line x1="32.04" y1="249.50" x2="34.46" y2="247.50" stroke="#000" stroke-width="0.72"/>
<line x1="34.46" y1="247.50" x2="36.88" y2="244.90" stroke="#000" stroke-width="0.72"/>
<line x1="36.88" y1="244.90" x2="41.72" y2="241.40" stroke="#000" stroke-width="0.72"/>
<line x1="41.72" y1="241.40" x2="46.56" y2="235.60" stroke="#000" stroke-width="0.72"/>
<line x1="46.56" y1="235.60" x2="56.24" y2="232.00" stroke="#000" stroke-width="0.72"/>
<line x1="56.24" y1="232.00" x2="65.92" y2="224.10" stroke="#000" stroke-width="0.72"/>
<line x1="65.92" y1="224.10" x2="85.28" y2="228.50" stroke="#000" stroke-width="0.72"/>
<line x1="85.28" y1="228.50" x2="104.64" y2="235.30" stroke="#000" stroke-width="0.72"/>
<line x1="104.64" y1="235.30" x2="124.00" y2="242.70" stroke="#000" stroke-width="0.72"/>
<line x1="124.00" y1="242.70" x2="134.20" y2="243.10" stroke="#000" stroke-width="0.72"/>
<line x1="140.10" y1="244.45" x2="167.30" y2="248.00" stroke="#000" stroke-width="0.72"/>
<line x1="27.20" y1="251.00" x2="29.62" y2="250.30" stroke="#000" stroke-width="0.72"/>
<line x1="29.62" y1="250.30" x2="32.04" y2="248.00" stroke="#000" stroke-width="0.72"/>
<line x1="32.04" y1="248.00" x2="34.46" y2="244.20" stroke="#000" stroke-width="0.72"/>
<line x1="34.46" y1="244.20" x2="36.88" y2="240.10" stroke="#000" stroke-width="0.72"/>
<line x1="36.88" y1="240.10" x2="41.72" y2="231.40" stroke="#000" stroke-width="0.72"/>
<line x1="41.72" y1="231.40" x2="46.56" y2="225.30" stroke="#000" stroke-width="0.72"/>
<line x1="46.56" y1="225.30" x2="56.24" y2="208.60" stroke="#000" stroke-width="0.72"/>
<line x1="56.24" y1="208.60" x2="65.92" y2="176.50" stroke="#000" stroke-width="0.72"/>
<line x1="65.92" y1="176.50" x2="85.28" y2="191.20" stroke="#000" stroke-width="0.72"/>
<line x1="85.28" y1="191.20" x2="104.64" y2="221.50" stroke="#000" stroke-width="0.72"/>
<line x1="104.64" y1="221.50" x2="124.00" y2="241.70" stroke="#000" stroke-width="0.72"/>
<line x1="124.00" y1="241.70" x2="134.20" y2="242.35" stroke="#000" stroke-width="0.72"/>
<line x1="140.10" y1="244.57" x2="167.30" y2="250.40" stroke="#000" stroke-width="0.72"/>
<rect x="25.48" y="249.28" width="3.44" height="3.44" fill="#fff" stroke="#000" stroke-width="0.7"/>
<rect x="27.90" y="249.08" width="3.44" height="3.44" fill="#fff" stroke="#000" stroke-width="0.7"/>
<rect x="30.32" y="248.58" width="3.44" height="3.44" fill="#fff" stroke="#000" stroke-width="0.7"/>
<rect x="32.74" y="247.28" width="3.44" height="3.44" fill="#fff" stroke="#000" stroke-width="0.7"/>
<rect x="35.16" y="245.68" width="3.44" height="3.44" fill="#fff" stroke="#000" stroke-width="0.7"/>
<rect x="40.00" y="242.28" width="3.44" height="3.44" fill="#fff" stroke="#000" stroke-width="0.7"/>
<rect x="44.84" y="236.48" width="3.44" height="3.44" fill="#fff" stroke="#000" stroke-width="0.7"/>
<rect x="54.52" y="236.08" width="3.44" height="3.44" fill="#fff" stroke="#000" stroke-width="0.7"/>
<rect x="64.20" y="242.78" width="3.44" height="3.44" fill="#fff" stroke="#000" stroke-width="0.7"/>
<rect x="83.56" y="245.28" width="3.44" height="3.44" fill="#fff" stroke="#000" stroke-width="0.7"/>
<rect x="102.92" y="247.58" width="3.44" height="3.44" fill="#fff" stroke="#000" stroke-width="0.7"/>
<rect x="122.28" y="249.38" width="3.44" height="3.44" fill="#fff" stroke="#000" stroke-width="0.7"/>
<rect x="165.58" y="249.38" width="3.44" height="3.44" fill="#fff" stroke="#000" stroke-width="0.7"/>
<line x1="46.56" y1="233.60" x2="46.56" y2="237.60" stroke="#000" stroke-width="0.68"/>
<line x1="44.46" y1="233.60" x2="48.66" y2="233.60" stroke="#000" stroke-width="0.68"/>
<line x1="44.46" y1="237.60" x2="48.66" y2="237.60" stroke="#000" stroke-width="0.68"/>
<line x1="56.24" y1="229.00" x2="56.24" y2="235.00" stroke="#000" stroke-width="0.68"/>
<line x1="54.14" y1="229.00" x2="58.34" y2="229.00" stroke="#000" stroke-width="0.68"/>
<line x1="54.14" y1="235.00" x2="58.34" y2="235.00" stroke="#000" stroke-width="0.68"/>
<line x1="65.92" y1="221.10" x2="65.92" y2="227.10" stroke="#000" stroke-width="0.68"/>
<line x1="63.82" y1="221.10" x2="68.02" y2="221.10" stroke="#000" stroke-width="0.68"/>
<line x1="63.82" y1="227.10" x2="68.02" y2="227.10" stroke="#000" stroke-width="0.68"/>
<line x1="104.64" y1="233.80" x2="104.64" y2="236.80" stroke="#000" stroke-width="0.68"/>
<line x1="102.54" y1="233.80" x2="106.74" y2="233.80" stroke="#000" stroke-width="0.68"/>
<line x1="102.54" y1="236.80" x2="106.74" y2="236.80" stroke="#000" stroke-width="0.68"/>
<rect x="25.35" y="249.15" width="3.70" height="3.70" fill="#000"/>
<rect x="27.77" y="248.75" width="3.70" height="3.70" fill="#000"/>
<rect x="30.19" y="247.65" width="3.70" height="3.70" fill="#000"/>
<rect x="32.61" y="245.65" width="3.70" height="3.70" fill="#000"/>
<rect x="35.03" y="243.05" width="3.70" height="3.70" fill="#000"/>
<rect x="39.87" y="239.55" width="3.70" height="3.70" fill="#000"/>
<rect x="44.71" y="233.75" width="3.70" height="3.70" fill="#000"/>
<rect x="54.39" y="230.15" width="3.70" height="3.70" fill="#000"/>
<rect x="64.07" y="222.25" width="3.70" height="3.70" fill="#000"/>
<rect x="83.43" y="226.65" width="3.70" height="3.70" fill="#000"/>
<rect x="102.79" y="233.45" width="3.70" height="3.70" fill="#000"/>
<rect x="122.15" y="240.85" width="3.70" height="3.70" fill="#000"/>
<rect x="165.45" y="246.15" width="3.70" height="3.70" fill="#000"/>
<line x1="36.88" y1="238.10" x2="36.88" y2="242.10" stroke="#000" stroke-width="0.68"/>
<line x1="34.78" y1="238.10" x2="38.98" y2="238.10" stroke="#000" stroke-width="0.68"/>
<line x1="34.78" y1="242.10" x2="38.98" y2="242.10" stroke="#000" stroke-width="0.68"/>
<line x1="41.72" y1="228.90" x2="41.72" y2="233.90" stroke="#000" stroke-width="0.68"/>
<line x1="39.62" y1="228.90" x2="43.82" y2="228.90" stroke="#000" stroke-width="0.68"/>
<line x1="39.62" y1="233.90" x2="43.82" y2="233.90" stroke="#000" stroke-width="0.68"/>
<line x1="46.56" y1="222.80" x2="46.56" y2="227.80" stroke="#000" stroke-width="0.68"/>
<line x1="44.46" y1="222.80" x2="48.66" y2="222.80" stroke="#000" stroke-width="0.68"/>
<line x1="44.46" y1="227.80" x2="48.66" y2="227.80" stroke="#000" stroke-width="0.68"/>
<line x1="56.24" y1="204.60" x2="56.24" y2="212.60" stroke="#000" stroke-width="0.68"/>
<line x1="54.14" y1="204.60" x2="58.34" y2="204.60" stroke="#000" stroke-width="0.68"/>
<line x1="54.14" y1="212.60" x2="58.34" y2="212.60" stroke="#000" stroke-width="0.68"/>
<line x1="65.92" y1="165.80" x2="65.92" y2="187.20" stroke="#000" stroke-width="0.68"/>
<line x1="63.82" y1="165.80" x2="68.02" y2="165.80" stroke="#000" stroke-width="0.68"/>
<line x1="63.82" y1="187.20" x2="68.02" y2="187.20" stroke="#000" stroke-width="0.68"/>
<line x1="85.28" y1="179.20" x2="85.28" y2="203.20" stroke="#000" stroke-width="0.68"/>
<line x1="83.18" y1="179.20" x2="87.38" y2="179.20" stroke="#000" stroke-width="0.68"/>
<line x1="83.18" y1="203.20" x2="87.38" y2="203.20" stroke="#000" stroke-width="0.68"/>
<line x1="104.64" y1="217.60" x2="104.64" y2="225.40" stroke="#000" stroke-width="0.68"/>
<line x1="102.54" y1="217.60" x2="106.74" y2="217.60" stroke="#000" stroke-width="0.68"/>
<line x1="102.54" y1="225.40" x2="106.74" y2="225.40" stroke="#000" stroke-width="0.68"/>
<polygon points="27.20,249.11 28.92,252.29 25.48,252.29" fill="#fff" stroke="#000" stroke-width="0.72"/>
<polygon points="29.62,248.41 31.34,251.59 27.90,251.59" fill="#fff" stroke="#000" stroke-width="0.72"/>
<polygon points="32.04,246.11 33.76,249.29 30.32,249.29" fill="#fff" stroke="#000" stroke-width="0.72"/>
<polygon points="34.46,242.31 36.18,245.49 32.74,245.49" fill="#fff" stroke="#000" stroke-width="0.72"/>
<polygon points="36.88,238.21 38.60,241.39 35.16,241.39" fill="#fff" stroke="#000" stroke-width="0.72"/>
<polygon points="41.72,229.51 43.44,232.69 40.00,232.69" fill="#fff" stroke="#000" stroke-width="0.72"/>
<polygon points="46.56,223.41 48.28,226.59 44.84,226.59" fill="#fff" stroke="#000" stroke-width="0.72"/>
<polygon points="56.24,206.71 57.96,209.89 54.52,209.89" fill="#fff" stroke="#000" stroke-width="0.72"/>
<polygon points="65.92,174.61 67.64,177.79 64.20,177.79" fill="#fff" stroke="#000" stroke-width="0.72"/>
<polygon points="85.28,189.31 87.00,192.49 83.56,192.49" fill="#fff" stroke="#000" stroke-width="0.72"/>
<polygon points="104.64,219.61 106.36,222.79 102.92,222.79" fill="#fff" stroke="#000" stroke-width="0.72"/>
<polygon points="124.00,239.81 125.72,242.99 122.28,242.99" fill="#fff" stroke="#000" stroke-width="0.72"/>
<polygon points="167.30,248.51 169.02,251.69 165.58,251.69" fill="#fff" stroke="#000" stroke-width="0.72"/>
<line x1="177.10" y1="164.60" x2="187.30" y2="164.60" stroke="#000" stroke-width="0.65"/>
<rect x="180.39" y="162.79" width="3.61" height="3.61" fill="#fff" stroke="#000" stroke-width="0.7"/>
<text x="192.70" y="167" font-size="6.45" text-anchor="start" >Methylone 100 mg (n=6)</text>
<line x1="177.10" y1="175.10" x2="187.30" y2="175.10" stroke="#000" stroke-width="0.65"/>
<rect x="180.26" y="173.16" width="3.89" height="3.89" fill="#000"/>
<text x="192.70" y="177" font-size="6.45" text-anchor="start" filter="url(#sh2)" >Methylone 150 mg (n=5)</text>
<line x1="177.10" y1="186.05" x2="187.30" y2="186.05" stroke="#000" stroke-width="0.65"/>
<polygon points="182.20,183.74 184.30,187.62 180.10,187.62" fill="#fff" stroke="#000" stroke-width="0.72"/>
<text x="192.70" y="188" font-size="6.45" text-anchor="start" filter="url(#sh1)" >Methylone 200 mg (n=6)</text>
</svg>
</body></html>
